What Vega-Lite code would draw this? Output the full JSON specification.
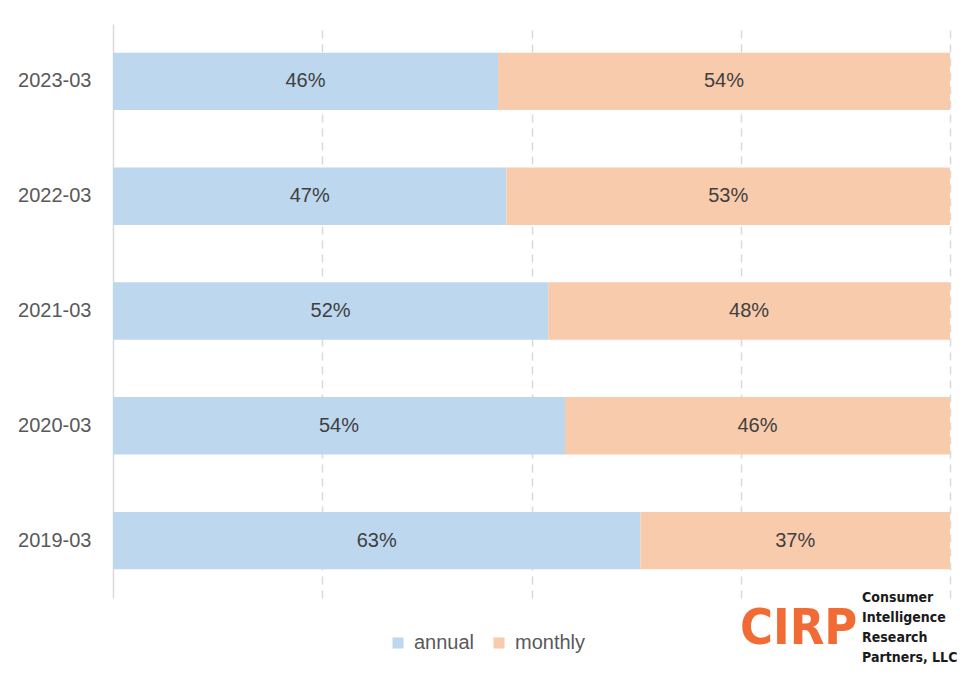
{
  "$schema": "https://vega.github.io/schema/vega-lite/v6.json",
  "width": 837,
  "height": 574,
  "autosize": {"type": "none"},
  "padding": {"left": 113, "top": 24, "right": 25, "bottom": 78},
  "background": "white",
  "config": {
    "view": {"stroke": null},
    "font": "Liberation Sans"
  },
  "data": {
    "values": [
      {"period": "2023-03", "plan": "annual", "share": 0.46},
      {"period": "2023-03", "plan": "monthly", "share": 0.54},
      {"period": "2022-03", "plan": "annual", "share": 0.47},
      {"period": "2022-03", "plan": "monthly", "share": 0.53},
      {"period": "2021-03", "plan": "annual", "share": 0.52},
      {"period": "2021-03", "plan": "monthly", "share": 0.48},
      {"period": "2020-03", "plan": "annual", "share": 0.54},
      {"period": "2020-03", "plan": "monthly", "share": 0.46},
      {"period": "2019-03", "plan": "annual", "share": 0.63},
      {"period": "2019-03", "plan": "monthly", "share": 0.37}
    ]
  },
  "transform": [
    {"stack": "share", "groupby": ["period"], "sort": [{"field": "plan", "order": "ascending"}], "as": ["s0", "s1"]},
    {"calculate": "(datum.s0 + datum.s1) / 2", "as": "mid"}
  ],
  "encoding": {
    "y": {
      "field": "period",
      "type": "nominal",
      "sort": "descending",
      "scale": {"paddingInner": 0.5, "paddingOuter": 0.25},
      "axis": {
        "title": null,
        "ticks": false,
        "domainColor": "#D9D9D9",
        "domainWidth": 1.5,
        "labelFontSize": 20,
        "labelColor": "#595959",
        "labelPadding": 22
      }
    }
  },
  "layer": [
    {
      "mark": {"type": "bar"},
      "encoding": {
        "x": {
          "field": "s0",
          "type": "quantitative",
          "scale": {"domain": [0, 1], "nice": false},
          "axis": {
            "title": null,
            "labels": false,
            "ticks": false,
            "domain": false,
            "grid": true,
            "gridColor": "#D9D9D9",
            "gridWidth": 1.5,
            "gridDash": [8, 6],
            "values": [0.25, 0.5, 0.75, 1]
          }
        },
        "x2": {"field": "s1"},
        "color": {
          "field": "plan",
          "type": "nominal",
          "scale": {"domain": ["annual", "monthly"], "range": ["#BDD7EE", "#F8CBAD"]},
          "legend": {
            "title": null,
            "orient": "none",
            "direction": "horizontal",
            "legendX": 275,
            "legendY": 609,
            "symbolType": "square",
            "symbolSize": 121,
            "symbolStrokeWidth": 0,
            "labelFontSize": 20,
            "labelColor": "#595959",
            "columnPadding": 14,
            "labelOffset": 6
          }
        }
      }
    },
    {
      "mark": {"type": "text", "fontSize": 20, "color": "#404040", "baseline": "middle", "align": "center"},
      "encoding": {
        "x": {"field": "mid", "type": "quantitative"},
        "text": {"field": "share", "type": "quantitative", "format": ".0%"}
      }
    },
    {
      "data": {"values": [{"logo": "CIRP"}]},
      "mark": {"type": "text", "font": "DejaVu Sans Condensed, sans-serif", "fontWeight": "bold", "fontSize": 50, "color": "#F26B35", "align": "left", "baseline": "middle", "dy": 88},
      "encoding": {
        "x": {"datum": 0.749, "type": "quantitative"},
        "y": {"datum": "2019-03"},
        "text": {"field": "logo"}
      }
    },
    {
      "data": {"values": [{"logo": "Consumer|Intelligence|Research|Partners, LLC"}]},
      "mark": {"type": "text", "font": "DejaVu Sans Condensed, sans-serif", "fontWeight": "bold", "fontSize": 14, "lineHeight": 20, "lineBreak": "|", "color": "#1A1A1A", "align": "left", "baseline": "top", "dy": 50},
      "encoding": {
        "x": {"datum": 0.895, "type": "quantitative"},
        "y": {"datum": "2019-03"},
        "text": {"field": "logo"}
      }
    }
  ]
}
